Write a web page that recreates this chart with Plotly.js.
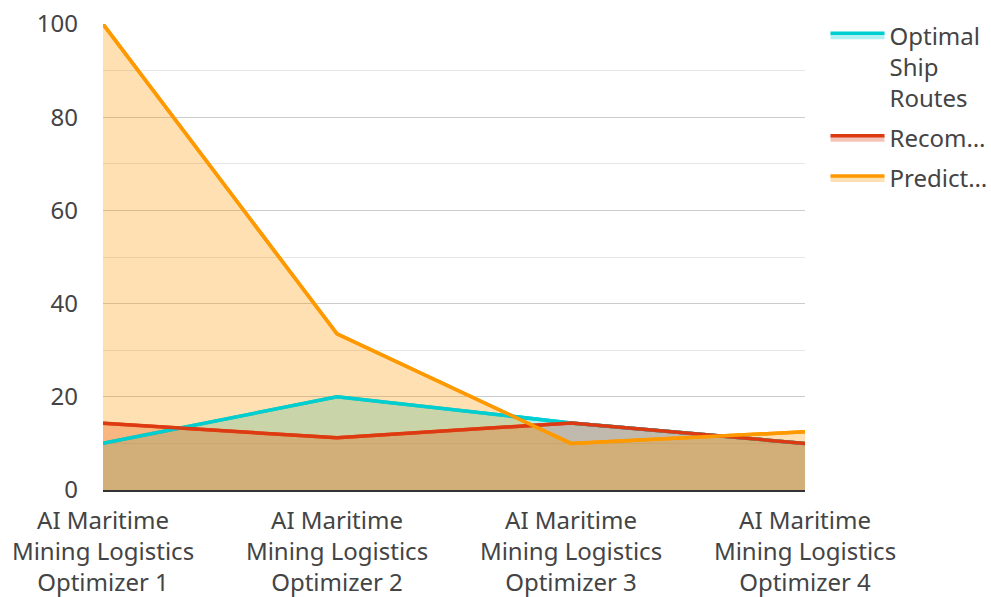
<!DOCTYPE html>
<html><head><meta charset="utf-8">
<script src="https://cdn.plot.ly/plotly-3.0.1.min.js"></script>
<style>html,body{margin:0;padding:0;background:#fff}</style>
</head><body><div id="chart" style="width:991px;height:597px"></div>
<script>
const categories = [
  "AI Maritime<br>Mining Logistics<br>Optimizer 1",
  "AI Maritime<br>Mining Logistics<br>Optimizer 2",
  "AI Maritime<br>Mining Logistics<br>Optimizer 3",
  "AI Maritime<br>Mining Logistics<br>Optimizer 4"
];
const seriesNames = ["Optimal<br>Ship<br>Routes", "Recom…", "Predict…"];
const optimalRoutes = [10, 20, 14.4, 10];
const recommended = [14.3, 11.2, 14.4, 10];
const predicted = [100, 33.5, 10, 12.5];
const lineColors = ["#00CED1", "#DD3A14", "#FF9900"];
const fillColors = ["rgba(0,206,209,0.3)", "rgba(221,58,20,0.3)", "rgba(255,153,0,0.3)"];

const seriesValues = [optimalRoutes, recommended, predicted];
// filled areas (with legend entries)
const fillTraces = seriesValues.map((vals, i) => ({
  type: "scatter",
  mode: "lines",
  x: categories,
  y: vals,
  name: seriesNames[i],
  legendgroup: "g" + i,
  fill: "tozeroy",
  fillcolor: fillColors[i],
  line: {color: lineColors[i], width: 3.5}
}));
// lines redrawn on top of all fills
const lineTraces = seriesValues.map((vals, i) => ({
  type: "scatter",
  mode: "lines",
  x: categories,
  y: vals,
  name: seriesNames[i],
  legendgroup: "g" + i,
  showlegend: false,
  hoverinfo: "skip",
  line: {color: lineColors[i], width: 3.5}
}));

const layout = {
  width: 991, height: 597,
  margin: {l: 103, r: 186, t: 24, b: 107},
  paper_bgcolor: "#fff", plot_bgcolor: "#fff",
  font: {family: "Noto Sans, Open Sans, sans-serif", size: 24, color: "#444"},
  showlegend: true,
  legend: {xref: "container", yref: "container", x: 0.833, y: 0.978,
    xanchor: "left", yanchor: "top", valign: "top",
    traceorder: "grouped", tracegroupgap: 6, itemwidth: 54,
    font: {size: 24, color: "#444"}},
  xaxis: {
    type: "category", range: [0, 3], showgrid: false, zeroline: false,
    showline: true, linecolor: "#333", linewidth: 2, ticks: "",
    tickfont: {size: 24}, ticklabelstandoff: 8, automargin: false
  },
  yaxis: {
    range: [0, 100], dtick: 20, showgrid: true, gridcolor: "#ccc", gridwidth: 1,
    minor: {dtick: 10, showgrid: true, gridcolor: "#e6e6e6"},
    zeroline: false, showline: false, ticks: "",
    tickfont: {size: 24}, ticklabelstandoff: 24, automargin: false
  }
};
Plotly.newPlot("chart", fillTraces.concat(lineTraces), layout, {displayModeBar: false});
</script></body></html>
